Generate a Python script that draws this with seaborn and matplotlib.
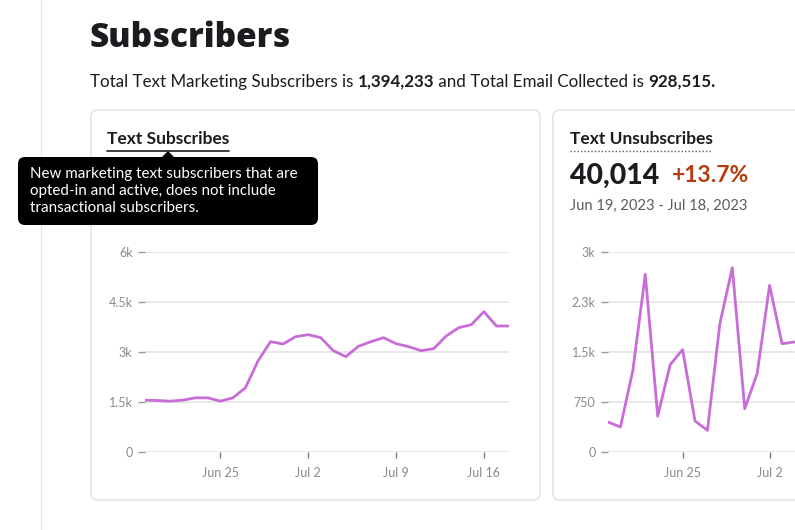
import pandas as pd
import matplotlib.pyplot as plt
import matplotlib.patches as mpatches
import matplotlib.lines as mlines
import seaborn as sns

# daily values Jun 19 - Jul 18, 2023
dias = pd.date_range("2023-06-19", "2023-07-18", freq="D")
text_subscribes = [1555, 1545, 1525, 1555, 1625, 1625, 1525, 1625, 1925, 2730,
                   3310, 3240, 3460, 3520, 3430, 3040, 2860, 3170, 3310, 3430,
                   3250, 3160, 3040, 3100, 3480, 3730, 3820, 4210, 3780, 3780]
# only the first 16 days of the unsubscribes card are visible
text_unsubscribes = [450, 375, 1225, 2665, 535, 1310, 1535, 465, 325, 1925,
                     2765, 650, 1175, 2500, 1625, 1650]

x_ticks = pd.to_datetime(["2023-06-25", "2023-07-02", "2023-07-09", "2023-07-16"])
x_labels = ["Jun 25", "Jul 2", "Jul 9", "Jul 16"]
y_ticks_subs = [0, 1500, 3000, 4500, 6000]
y_labels_subs = ["0", "1.5k", "3k", "4.5k", "6k"]
y_ticks_unsubs = [0, 750, 1500, 2250, 3000]
y_labels_unsubs = ["0", "750", "1.5k", "2.3k", "3k"]

df_subs = pd.DataFrame({"dia": dias, "valor": text_subscribes})
df_unsubs = pd.DataFrame({"dia": dias[:len(text_unsubscribes)], "valor": text_unsubscribes})

sns.set_theme(style="white")
plt.rcParams["font.family"] = ["Lato", "DejaVu Sans"]

W, H = 795, 530
fig = plt.figure(figsize=(W / 100, H / 100), dpi=100)
fig.patch.set_facecolor("white")
tr = fig.dpi_scale_trans
renderer = fig.canvas.get_renderer()


def P(x, y):
    # pixels (from top-left) -> inches
    return x / 100, (H - y) / 100


def texto(x, y, s, **kw):
    return fig.text(*P(x, y), s, transform=tr, **kw)


def texto_partes(x, y, partes, **kw):
    # texts in a row, some bold, measured one after the other
    for s, peso in partes:
        t = texto(x, y, s, fontweight=peso, **kw)
        x += t.get_window_extent(renderer).width


def card(x0, y0, x1, y1):
    sombra = mpatches.FancyBboxPatch(P(x0 - 1, y1 + 1), (x1 - x0 + 2) / 100, (y1 - y0 + 2) / 100,
                                     boxstyle="round,pad=0,rounding_size=0.08",
                                     transform=tr, facecolor="#f3f3f3", edgecolor="none", zorder=-3)
    fig.add_artist(sombra)
    caixa = mpatches.FancyBboxPatch(P(x0, y1), (x1 - x0) / 100, (y1 - y0) / 100,
                                    boxstyle="round,pad=0,rounding_size=0.07",
                                    transform=tr, facecolor="white", edgecolor="#e2e2e2",
                                    linewidth=1, zorder=-2)
    fig.add_artist(caixa)


# left rail line
fig.add_artist(mlines.Line2D([0.41, 0.41], [0, H / 100], transform=tr, color="#e6e6e6", lw=1, zorder=-4))

# header
texto(90, 38, "Subscribers", fontsize=24, fontweight="heavy", color="#1b1c1f", va="center",
      family=["Open Sans", "DejaVu Sans"])
texto_partes(90, 82, [("Total Text Marketing Subscribers is ", "normal"), ("1,394,233", "bold"),
                      (" and Total Email Collected is ", "normal"), ("928,515.", "bold")],
             fontsize=12.25, color="#1b1c1f", va="center")

# cards
card(91, 110, 540, 500)
card(553, 110, 880, 500)

# card titles
texto(107, 139, "Text Subscribes", fontsize=12.5, fontweight="bold", color="#1b1c1f", va="center")
fig.add_artist(mlines.Line2D([1.07, 2.29], [(H - 151) / 100] * 2, transform=tr, color="#1b1c1f", lw=1.2))
texto(570, 139, "Text Unsubscribes", fontsize=12.5, fontweight="bold", color="#1b1c1f", va="center")
fig.add_artist(mlines.Line2D([5.70, 7.11], [(H - 151) / 100] * 2, transform=tr, color="#555555",
                             lw=1, linestyle=(0, (1, 1.5))))

texto(570, 176, "40,014", fontsize=20.5, fontweight="black", color="#1b1c1f", va="center")
texto(672, 176, "+13.7%", fontsize=16.5, fontweight="bold", color="#b83b10", va="center")
texto(570, 206, "Jun 19, 2023 - Jul 18, 2023", fontsize=10.6, color="#5c5c5c", va="center")

# tooltip
balao = mpatches.FancyBboxPatch(P(18, 225), 3.00, 0.68, boxstyle="round,pad=0,rounding_size=0.07",
                                transform=tr, facecolor="black", edgecolor="none", zorder=10)
fig.add_artist(balao)
fig.add_artist(mpatches.Polygon([P(161, 158), P(168, 151), P(175, 158)], closed=True,
                                transform=tr, facecolor="black", edgecolor="none", zorder=10))
for i, linha in enumerate(["New marketing text subscribers that are",
                           "opted-in and active, does not include",
                           "transactional subscribers."]):
    texto(30, 174 + 17 * i, linha, fontsize=10.9, color="white", va="center", zorder=11)


def painel(df, x0, x1, yticks, ylabels, n_xticks):
    ax = fig.add_axes([x0 / W, 1 - 452 / H, (x1 - x0) / W, 200 / H])
    ax.set_facecolor("none")
    sns.lineplot(data=df, x="dia", y="valor", ax=ax, color="#c86dd7", linewidth=2)
    ax.set_xlim(dias[0], dias[-1])
    ax.set_ylim(yticks[0], yticks[-1])
    ax.set_yticks(yticks)
    ax.set_yticklabels(ylabels)
    ax.set_xticks(x_ticks[:n_xticks])
    ax.set_xticklabels(x_labels[:n_xticks])
    ax.set_xlabel("")
    ax.set_ylabel("")
    for s in ax.spines.values():
        s.set_visible(False)
    ax.yaxis.grid(True, color="#e4e4e4", linewidth=1.2)
    ax.set_axisbelow(True)
    ax.tick_params(axis="y", left=True, length=5, width=1, color="#9a9a9a", pad=4,
                   labelsize=9, labelcolor="#8a8a8a")
    ax.tick_params(axis="x", bottom=True, length=4, width=1, color="#777777", pad=7,
                   labelsize=9, labelcolor="#8a8a8a")
    return ax


painel(df_subs, 145, 509, y_ticks_subs, y_labels_subs, 4)
painel(df_unsubs, 608, 608 + 29 * 12.43, y_ticks_unsubs, y_labels_unsubs, 2)

plt.savefig("out.png", dpi=100)
plt.close()
